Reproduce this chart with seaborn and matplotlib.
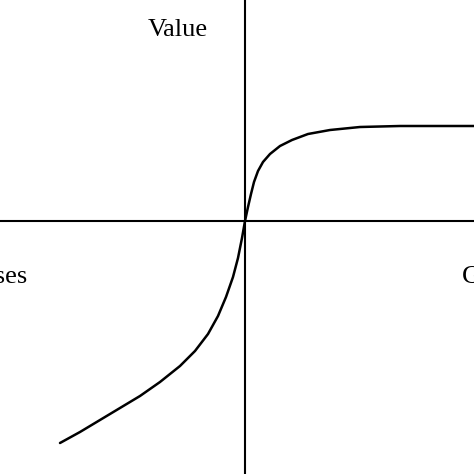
import matplotlib
matplotlib.use("Agg")
import matplotlib.pyplot as plt
import seaborn as sns
import pandas as pd

# Curve points (pixel-like coordinates, y downward)
loss_x = [60, 80, 100, 120, 140, 160, 180, 195, 208, 218, 226, 233, 238, 242, 245]
loss_y = [443, 432, 420, 408, 396, 382, 366, 351, 334, 316, 297, 277, 258, 238, 221]
gain_x = [245, 248, 251, 254, 258, 263, 270, 280, 292, 308, 330, 360, 400, 440, 474]
gain_y = [221, 207, 194, 182, 171, 162, 154, 146, 140, 134, 130, 127, 126, 126, 126]

df = pd.DataFrame({"x": loss_x + gain_x[1:], "y": loss_y + gain_y[1:]})

sns.set_style("white")
plt.rcParams["font.family"] = ["Liberation Serif", "DejaVu Serif"]

fig = plt.figure(figsize=(4.74, 4.74), dpi=100)
ax = fig.add_axes([0, 0, 1, 1])
sns.lineplot(data=df, x="x", y="y", sort=False, color="black", linewidth=1.8, ax=ax)

ax.axhline(221, color="black", linewidth=1.5)
ax.axvline(245, color="black", linewidth=1.5)

ax.text(178, 30, "Value", fontsize=19, ha="center", va="center", color="black")
ax.text(27, 277, "Losses", fontsize=19, ha="right", va="center", color="black")
ax.text(462, 277, "Gains", fontsize=19, ha="left", va="center", color="black")

ax.set_xlim(0, 474)
ax.set_ylim(474, 0)
ax.axis("off")
fig.savefig("out.png", dpi=100)
